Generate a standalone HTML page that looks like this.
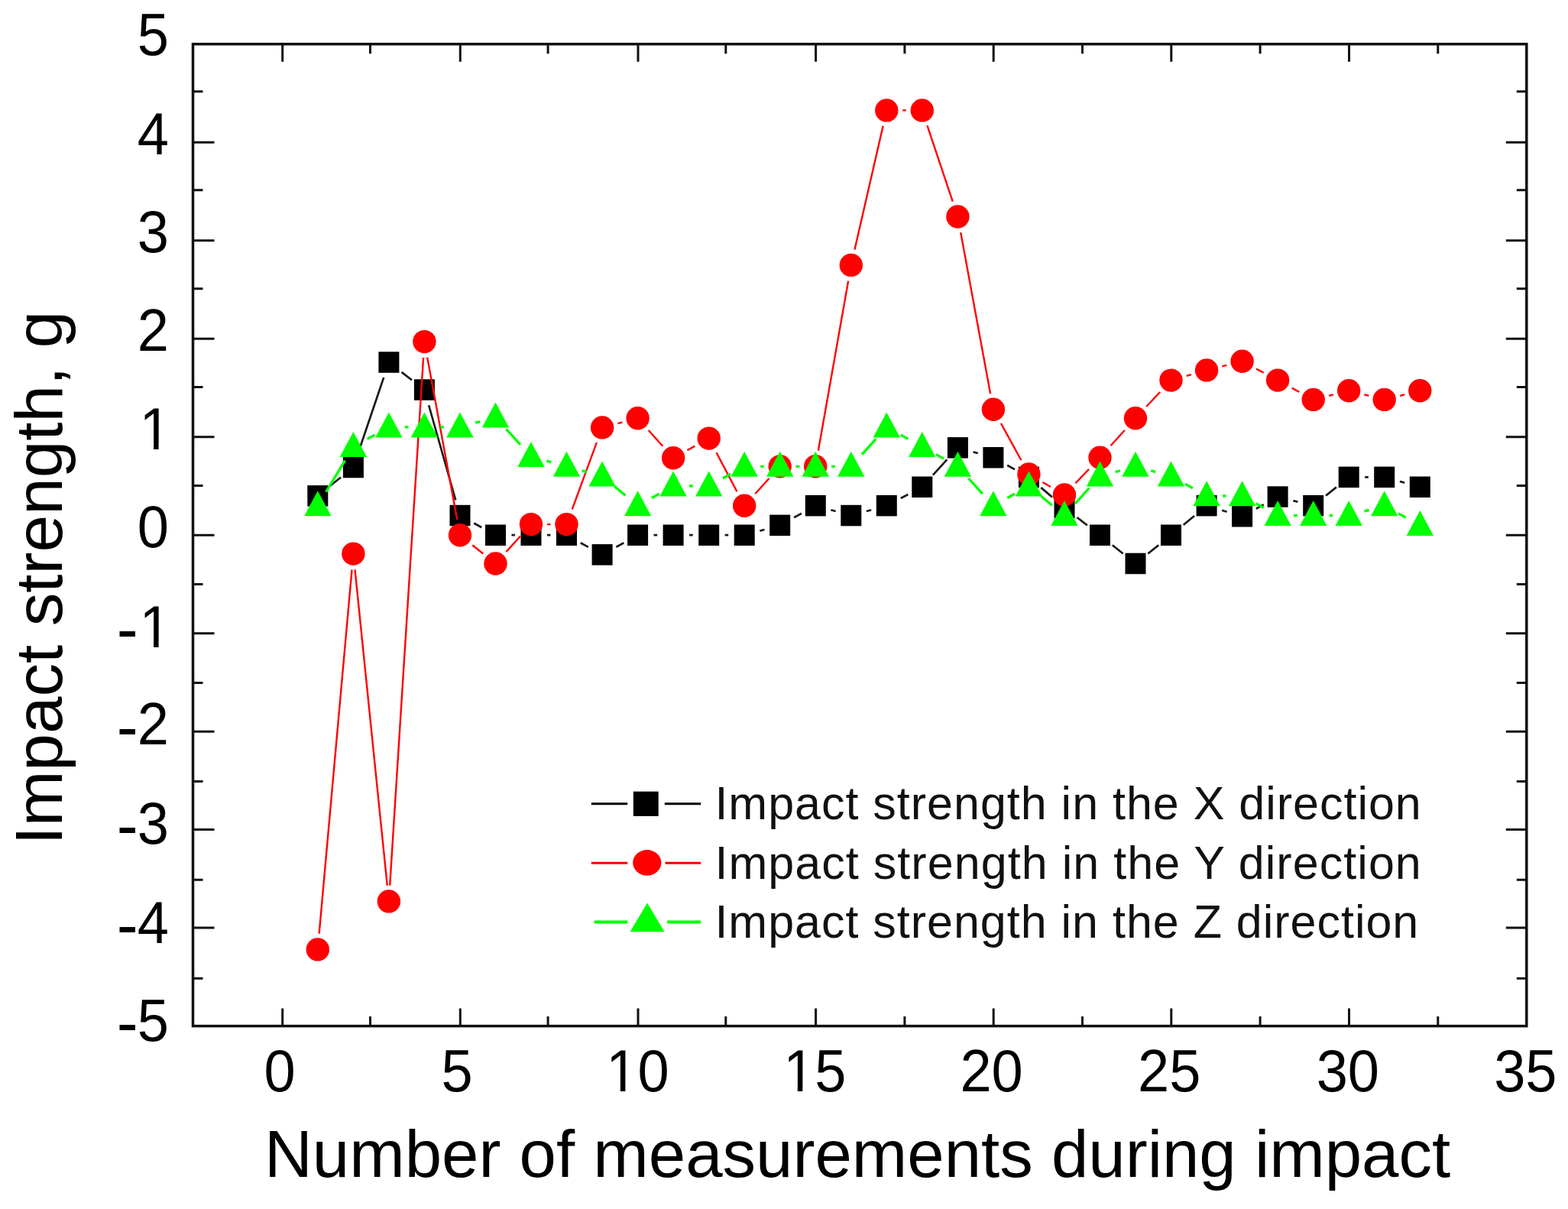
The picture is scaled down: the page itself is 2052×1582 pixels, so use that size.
<!DOCTYPE html><html><head><meta charset="utf-8"><title>Impact strength chart</title><style>html,body{margin:0;padding:0;background:#fff;overflow:hidden}svg{display:block}</style></head><body><svg width="2052" height="1582" viewBox="0 0 2052 1582">
<rect width="2052" height="1582" fill="#fff"/>
<defs><mask id="mb" maskUnits="userSpaceOnUse" x="0" y="0" width="2052" height="1582"><rect width="2052" height="1582" fill="#fff"/><circle cx="415.8" cy="648.8" r="21" fill="#000"/><circle cx="462.4" cy="611.5" r="21" fill="#000"/><circle cx="508.9" cy="474.1" r="21" fill="#000"/><circle cx="555.4" cy="510.0" r="21" fill="#000"/><circle cx="602.0" cy="674.5" r="21" fill="#000"/><circle cx="648.5" cy="700.2" r="21" fill="#000"/><circle cx="695.0" cy="700.2" r="21" fill="#000"/><circle cx="741.5" cy="700.2" r="21" fill="#000"/><circle cx="788.1" cy="725.9" r="21" fill="#000"/><circle cx="834.6" cy="700.2" r="21" fill="#000"/><circle cx="881.1" cy="700.2" r="21" fill="#000"/><circle cx="927.7" cy="700.2" r="21" fill="#000"/><circle cx="974.2" cy="700.2" r="21" fill="#000"/><circle cx="1020.7" cy="687.4" r="21" fill="#000"/><circle cx="1067.2" cy="661.7" r="21" fill="#000"/><circle cx="1113.8" cy="674.5" r="21" fill="#000"/><circle cx="1160.3" cy="661.7" r="21" fill="#000"/><circle cx="1206.8" cy="637.2" r="21" fill="#000"/><circle cx="1253.4" cy="585.9" r="21" fill="#000"/><circle cx="1299.9" cy="598.7" r="21" fill="#000"/><circle cx="1346.4" cy="624.4" r="21" fill="#000"/><circle cx="1393.0" cy="664.2" r="21" fill="#000"/><circle cx="1439.5" cy="700.2" r="21" fill="#000"/><circle cx="1486.0" cy="737.5" r="21" fill="#000"/><circle cx="1532.5" cy="700.2" r="21" fill="#000"/><circle cx="1579.1" cy="661.7" r="21" fill="#000"/><circle cx="1625.6" cy="675.8" r="21" fill="#000"/><circle cx="1672.1" cy="650.1" r="21" fill="#000"/><circle cx="1718.7" cy="661.7" r="21" fill="#000"/><circle cx="1765.2" cy="624.4" r="21" fill="#000"/><circle cx="1811.7" cy="624.4" r="21" fill="#000"/><circle cx="1858.3" cy="637.2" r="21" fill="#000"/></mask><mask id="mr" maskUnits="userSpaceOnUse" x="0" y="0" width="2052" height="1582"><rect width="2052" height="1582" fill="#fff"/><circle cx="415.8" cy="1242.4" r="21" fill="#000"/><circle cx="462.4" cy="724.6" r="21" fill="#000"/><circle cx="508.9" cy="1179.4" r="21" fill="#000"/><circle cx="555.4" cy="447.1" r="21" fill="#000"/><circle cx="602.0" cy="700.2" r="21" fill="#000"/><circle cx="648.5" cy="737.5" r="21" fill="#000"/><circle cx="695.0" cy="686.1" r="21" fill="#000"/><circle cx="741.5" cy="686.1" r="21" fill="#000"/><circle cx="788.1" cy="559.4" r="21" fill="#000"/><circle cx="834.6" cy="547.3" r="21" fill="#000"/><circle cx="881.1" cy="599.3" r="21" fill="#000"/><circle cx="927.7" cy="573.6" r="21" fill="#000"/><circle cx="974.2" cy="661.7" r="21" fill="#000"/><circle cx="1020.7" cy="610.3" r="21" fill="#000"/><circle cx="1067.2" cy="610.3" r="21" fill="#000"/><circle cx="1113.8" cy="346.9" r="21" fill="#000"/><circle cx="1160.3" cy="144.4" r="21" fill="#000"/><circle cx="1206.8" cy="144.4" r="21" fill="#000"/><circle cx="1253.4" cy="283.5" r="21" fill="#000"/><circle cx="1299.9" cy="535.7" r="21" fill="#000"/><circle cx="1346.4" cy="620.5" r="21" fill="#000"/><circle cx="1393.0" cy="647.5" r="21" fill="#000"/><circle cx="1439.5" cy="598.7" r="21" fill="#000"/><circle cx="1486.0" cy="547.3" r="21" fill="#000"/><circle cx="1532.5" cy="497.6" r="21" fill="#000"/><circle cx="1579.1" cy="484.4" r="21" fill="#000"/><circle cx="1625.6" cy="472.8" r="21" fill="#000"/><circle cx="1672.1" cy="497.6" r="21" fill="#000"/><circle cx="1718.7" cy="522.9" r="21" fill="#000"/><circle cx="1765.2" cy="511.3" r="21" fill="#000"/><circle cx="1811.7" cy="522.9" r="21" fill="#000"/><circle cx="1858.3" cy="511.3" r="21" fill="#000"/></mask><mask id="mg" maskUnits="userSpaceOnUse" x="0" y="0" width="2052" height="1582"><rect width="2052" height="1582" fill="#fff"/><circle cx="415.8" cy="661.7" r="21" fill="#000"/><circle cx="462.4" cy="584.6" r="21" fill="#000"/><circle cx="508.9" cy="558.9" r="21" fill="#000"/><circle cx="555.4" cy="558.9" r="21" fill="#000"/><circle cx="602.0" cy="558.9" r="21" fill="#000"/><circle cx="648.5" cy="546.0" r="21" fill="#000"/><circle cx="695.0" cy="597.4" r="21" fill="#000"/><circle cx="741.5" cy="610.3" r="21" fill="#000"/><circle cx="788.1" cy="623.1" r="21" fill="#000"/><circle cx="834.6" cy="661.7" r="21" fill="#000"/><circle cx="881.1" cy="636.0" r="21" fill="#000"/><circle cx="927.7" cy="636.0" r="21" fill="#000"/><circle cx="974.2" cy="610.3" r="21" fill="#000"/><circle cx="1020.7" cy="610.3" r="21" fill="#000"/><circle cx="1067.2" cy="610.3" r="21" fill="#000"/><circle cx="1113.8" cy="610.3" r="21" fill="#000"/><circle cx="1160.3" cy="558.9" r="21" fill="#000"/><circle cx="1206.8" cy="584.6" r="21" fill="#000"/><circle cx="1253.4" cy="610.3" r="21" fill="#000"/><circle cx="1299.9" cy="661.7" r="21" fill="#000"/><circle cx="1346.4" cy="636.0" r="21" fill="#000"/><circle cx="1393.0" cy="674.5" r="21" fill="#000"/><circle cx="1439.5" cy="623.1" r="21" fill="#000"/><circle cx="1486.0" cy="610.3" r="21" fill="#000"/><circle cx="1532.5" cy="623.1" r="21" fill="#000"/><circle cx="1579.1" cy="648.8" r="21" fill="#000"/><circle cx="1625.6" cy="648.8" r="21" fill="#000"/><circle cx="1672.1" cy="674.5" r="21" fill="#000"/><circle cx="1718.7" cy="674.5" r="21" fill="#000"/><circle cx="1765.2" cy="674.5" r="21" fill="#000"/><circle cx="1811.7" cy="661.7" r="21" fill="#000"/><circle cx="1858.3" cy="687.4" r="21" fill="#000"/></mask></defs>
<polyline points="415.8,648.8 462.4,611.5 508.9,474.1 555.4,510.0 602.0,674.5 648.5,700.2 695.0,700.2 741.5,700.2 788.1,725.9 834.6,700.2 881.1,700.2 927.7,700.2 974.2,700.2 1020.7,687.4 1067.2,661.7 1113.8,674.5 1160.3,661.7 1206.8,637.2 1253.4,585.9 1299.9,598.7 1346.4,624.4 1393.0,664.2 1439.5,700.2 1486.0,737.5 1532.5,700.2 1579.1,661.7 1625.6,675.8 1672.1,650.1 1718.7,661.7 1765.2,624.4 1811.7,624.4 1858.3,637.2" fill="none" stroke="#1a1a1a" stroke-width="2.7" stroke-linejoin="round" mask="url(#mb)"/>
<rect x="402.3" y="635.1" width="27" height="27.5" fill="#000"/>
<rect x="448.9" y="597.8" width="27" height="27.5" fill="#000"/>
<rect x="495.4" y="460.3" width="27" height="27.5" fill="#000"/>
<rect x="541.9" y="496.3" width="27" height="27.5" fill="#000"/>
<rect x="588.5" y="660.8" width="27" height="27.5" fill="#000"/>
<rect x="635.0" y="686.5" width="27" height="27.5" fill="#000"/>
<rect x="681.5" y="686.5" width="27" height="27.5" fill="#000"/>
<rect x="728.0" y="686.5" width="27" height="27.5" fill="#000"/>
<rect x="774.6" y="712.1" width="27" height="27.5" fill="#000"/>
<rect x="821.1" y="686.5" width="27" height="27.5" fill="#000"/>
<rect x="867.6" y="686.5" width="27" height="27.5" fill="#000"/>
<rect x="914.2" y="686.5" width="27" height="27.5" fill="#000"/>
<rect x="960.7" y="686.5" width="27" height="27.5" fill="#000"/>
<rect x="1007.2" y="673.6" width="27" height="27.5" fill="#000"/>
<rect x="1053.8" y="647.9" width="27" height="27.5" fill="#000"/>
<rect x="1100.3" y="660.8" width="27" height="27.5" fill="#000"/>
<rect x="1146.8" y="647.9" width="27" height="27.5" fill="#000"/>
<rect x="1193.3" y="623.5" width="27" height="27.5" fill="#000"/>
<rect x="1239.9" y="572.1" width="27" height="27.5" fill="#000"/>
<rect x="1286.4" y="585.0" width="27" height="27.5" fill="#000"/>
<rect x="1332.9" y="610.6" width="27" height="27.5" fill="#000"/>
<rect x="1379.5" y="650.5" width="27" height="27.5" fill="#000"/>
<rect x="1426.0" y="686.5" width="27" height="27.5" fill="#000"/>
<rect x="1472.5" y="723.7" width="27" height="27.5" fill="#000"/>
<rect x="1519.0" y="686.5" width="27" height="27.5" fill="#000"/>
<rect x="1565.6" y="647.9" width="27" height="27.5" fill="#000"/>
<rect x="1612.1" y="662.0" width="27" height="27.5" fill="#000"/>
<rect x="1658.6" y="636.3" width="27" height="27.5" fill="#000"/>
<rect x="1705.2" y="647.9" width="27" height="27.5" fill="#000"/>
<rect x="1751.7" y="610.6" width="27" height="27.5" fill="#000"/>
<rect x="1798.2" y="610.6" width="27" height="27.5" fill="#000"/>
<rect x="1844.8" y="623.5" width="27" height="27.5" fill="#000"/>
<polyline points="415.8,1242.4 462.4,724.6 508.9,1179.4 555.4,447.1 602.0,700.2 648.5,737.5 695.0,686.1 741.5,686.1 788.1,559.4 834.6,547.3 881.1,599.3 927.7,573.6 974.2,661.7 1020.7,610.3 1067.2,610.3 1113.8,346.9 1160.3,144.4 1206.8,144.4 1253.4,283.5 1299.9,535.7 1346.4,620.5 1393.0,647.5 1439.5,598.7 1486.0,547.3 1532.5,497.6 1579.1,484.4 1625.6,472.8 1672.1,497.6 1718.7,522.9 1765.2,511.3 1811.7,522.9 1858.3,511.3" fill="none" stroke="#f00" stroke-width="2.4" stroke-linejoin="round" mask="url(#mr)"/>
<circle cx="415.8" cy="1242.4" r="15.2" fill="#f00"/>
<circle cx="462.4" cy="724.6" r="15.2" fill="#f00"/>
<circle cx="508.9" cy="1179.4" r="15.2" fill="#f00"/>
<circle cx="555.4" cy="447.1" r="15.2" fill="#f00"/>
<circle cx="602.0" cy="700.2" r="15.2" fill="#f00"/>
<circle cx="648.5" cy="737.5" r="15.2" fill="#f00"/>
<circle cx="695.0" cy="686.1" r="15.2" fill="#f00"/>
<circle cx="741.5" cy="686.1" r="15.2" fill="#f00"/>
<circle cx="788.1" cy="559.4" r="15.2" fill="#f00"/>
<circle cx="834.6" cy="547.3" r="15.2" fill="#f00"/>
<circle cx="881.1" cy="599.3" r="15.2" fill="#f00"/>
<circle cx="927.7" cy="573.6" r="15.2" fill="#f00"/>
<circle cx="974.2" cy="661.7" r="15.2" fill="#f00"/>
<circle cx="1020.7" cy="610.3" r="15.2" fill="#f00"/>
<circle cx="1067.2" cy="610.3" r="15.2" fill="#f00"/>
<circle cx="1113.8" cy="346.9" r="15.2" fill="#f00"/>
<circle cx="1160.3" cy="144.4" r="15.2" fill="#f00"/>
<circle cx="1206.8" cy="144.4" r="15.2" fill="#f00"/>
<circle cx="1253.4" cy="283.5" r="15.2" fill="#f00"/>
<circle cx="1299.9" cy="535.7" r="15.2" fill="#f00"/>
<circle cx="1346.4" cy="620.5" r="15.2" fill="#f00"/>
<circle cx="1393.0" cy="647.5" r="15.2" fill="#f00"/>
<circle cx="1439.5" cy="598.7" r="15.2" fill="#f00"/>
<circle cx="1486.0" cy="547.3" r="15.2" fill="#f00"/>
<circle cx="1532.5" cy="497.6" r="15.2" fill="#f00"/>
<circle cx="1579.1" cy="484.4" r="15.2" fill="#f00"/>
<circle cx="1625.6" cy="472.8" r="15.2" fill="#f00"/>
<circle cx="1672.1" cy="497.6" r="15.2" fill="#f00"/>
<circle cx="1718.7" cy="522.9" r="15.2" fill="#f00"/>
<circle cx="1765.2" cy="511.3" r="15.2" fill="#f00"/>
<circle cx="1811.7" cy="522.9" r="15.2" fill="#f00"/>
<circle cx="1858.3" cy="511.3" r="15.2" fill="#f00"/>
<polyline points="415.8,661.7 462.4,584.6 508.9,558.9 555.4,558.9 602.0,558.9 648.5,546.0 695.0,597.4 741.5,610.3 788.1,623.1 834.6,661.7 881.1,636.0 927.7,636.0 974.2,610.3 1020.7,610.3 1067.2,610.3 1113.8,610.3 1160.3,558.9 1206.8,584.6 1253.4,610.3 1299.9,661.7 1346.4,636.0 1393.0,674.5 1439.5,623.1 1486.0,610.3 1532.5,623.1 1579.1,648.8 1625.6,648.8 1672.1,674.5 1718.7,674.5 1765.2,674.5 1811.7,661.7 1858.3,687.4" fill="none" stroke="#0f0" stroke-width="3.3" stroke-linejoin="round" mask="url(#mg)"/>
<polygon points="415.8,642.2 433.5,675.2 398.1,675.2" fill="#0f0"/>
<polygon points="462.4,565.1 480.1,598.1 444.7,598.1" fill="#0f0"/>
<polygon points="508.9,539.4 526.6,572.4 491.2,572.4" fill="#0f0"/>
<polygon points="555.4,539.4 573.1,572.4 537.7,572.4" fill="#0f0"/>
<polygon points="602.0,539.4 619.7,572.4 584.2,572.4" fill="#0f0"/>
<polygon points="648.5,526.5 666.2,559.5 630.8,559.5" fill="#0f0"/>
<polygon points="695.0,577.9 712.7,610.9 677.3,610.9" fill="#0f0"/>
<polygon points="741.5,590.8 759.2,623.8 723.8,623.8" fill="#0f0"/>
<polygon points="788.1,603.6 805.8,636.6 770.4,636.6" fill="#0f0"/>
<polygon points="834.6,642.2 852.3,675.2 816.9,675.2" fill="#0f0"/>
<polygon points="881.1,616.5 898.8,649.5 863.4,649.5" fill="#0f0"/>
<polygon points="927.7,616.5 945.4,649.5 910.0,649.5" fill="#0f0"/>
<polygon points="974.2,590.8 991.9,623.8 956.5,623.8" fill="#0f0"/>
<polygon points="1020.7,590.8 1038.4,623.8 1003.0,623.8" fill="#0f0"/>
<polygon points="1067.2,590.8 1085.0,623.8 1049.5,623.8" fill="#0f0"/>
<polygon points="1113.8,590.8 1131.5,623.8 1096.1,623.8" fill="#0f0"/>
<polygon points="1160.3,539.4 1178.0,572.4 1142.6,572.4" fill="#0f0"/>
<polygon points="1206.8,565.1 1224.5,598.1 1189.1,598.1" fill="#0f0"/>
<polygon points="1253.4,590.8 1271.1,623.8 1235.7,623.8" fill="#0f0"/>
<polygon points="1299.9,642.2 1317.6,675.2 1282.2,675.2" fill="#0f0"/>
<polygon points="1346.4,616.5 1364.1,649.5 1328.7,649.5" fill="#0f0"/>
<polygon points="1393.0,655.0 1410.7,688.0 1375.3,688.0" fill="#0f0"/>
<polygon points="1439.5,603.6 1457.2,636.6 1421.8,636.6" fill="#0f0"/>
<polygon points="1486.0,590.8 1503.7,623.8 1468.3,623.8" fill="#0f0"/>
<polygon points="1532.5,603.6 1550.2,636.6 1514.8,636.6" fill="#0f0"/>
<polygon points="1579.1,629.3 1596.8,662.3 1561.4,662.3" fill="#0f0"/>
<polygon points="1625.6,629.3 1643.3,662.3 1607.9,662.3" fill="#0f0"/>
<polygon points="1672.1,655.0 1689.8,688.0 1654.4,688.0" fill="#0f0"/>
<polygon points="1718.7,655.0 1736.4,688.0 1701.0,688.0" fill="#0f0"/>
<polygon points="1765.2,655.0 1782.9,688.0 1747.5,688.0" fill="#0f0"/>
<polygon points="1811.7,642.2 1829.4,675.2 1794.0,675.2" fill="#0f0"/>
<polygon points="1858.3,667.9 1876.0,700.9 1840.6,700.9" fill="#0f0"/>
<rect x="252.5" y="57.7" width="1745.3" height="1284.9" fill="none" stroke="#111" stroke-width="3.5"/>
<path d="M252.5,1280.3h13M1997.8,1280.3h-13M252.5,1214.1h28M1997.8,1214.1h-27M252.5,1151.3h13M1997.8,1151.3h-13M252.5,1085.6h28M1997.8,1085.6h-27M252.5,1022.4h13M1997.8,1022.4h-13M252.5,957.2h28M1997.8,957.2h-27M252.5,893.5h13M1997.8,893.5h-13M252.5,828.7h28M1997.8,828.7h-27M252.5,764.5h13M1997.8,764.5h-13M252.5,700.2h28M1997.8,700.2h-27M252.5,635.6h13M1997.8,635.6h-13M252.5,571.7h28M1997.8,571.7h-27M252.5,506.6h13M1997.8,506.6h-13M252.5,443.2h28M1997.8,443.2h-27M252.5,377.7h13M1997.8,377.7h-13M252.5,314.8h28M1997.8,314.8h-27M252.5,248.8h13M1997.8,248.8h-13M252.5,186.3h28M1997.8,186.3h-27M252.5,119.8h13M1997.8,119.8h-13M369.7,57.7v23M369.7,1342.6v-23M484.5,57.7v12.5M484.5,1342.6v-12.5M602.3,57.7v23M602.3,1342.6v-23M717.1,57.7v12.5M717.1,1342.6v-12.5M835.0,57.7v23M835.0,1342.6v-23M949.8,57.7v12.5M949.8,1342.6v-12.5M1067.6,57.7v23M1067.6,1342.6v-23M1183.9,57.7v12.5M1183.9,1342.6v-12.5M1300.2,57.7v23M1300.2,1342.6v-23M1416.5,57.7v12.5M1416.5,1342.6v-12.5M1532.8,57.7v23M1532.8,1342.6v-23M1649.1,57.7v12.5M1649.1,1342.6v-12.5M1765.5,57.7v23M1765.5,1342.6v-23M1881.8,57.7v12.5M1881.8,1342.6v-12.5" stroke="#111" stroke-width="3" fill="none"/>
<text transform="translate(0,1361.5) scale(1,1.06)" font-size="74" font-family="'Liberation Sans', Arial, sans-serif" fill="#000"><tspan x="152.8" y="5.9" font-size="84">-</tspan><tspan x="179.84" y="0">5</tspan></text>
<text transform="translate(0,1233.6) scale(1,1.06)" font-size="74" font-family="'Liberation Sans', Arial, sans-serif" fill="#000"><tspan x="152.8" y="5.9" font-size="84">-</tspan><tspan x="179.84" y="0">4</tspan></text>
<text transform="translate(0,1103.5) scale(1,1.06)" font-size="74" font-family="'Liberation Sans', Arial, sans-serif" fill="#000"><tspan x="152.8" y="5.9" font-size="84">-</tspan><tspan x="179.84" y="0">3</tspan></text>
<text transform="translate(0,974.3) scale(1,1.06)" font-size="74" font-family="'Liberation Sans', Arial, sans-serif" fill="#000"><tspan x="152.8" y="5.9" font-size="84">-</tspan><tspan x="179.84" y="0">2</tspan></text>
<text transform="translate(0,846.8) scale(1,1.06)" font-size="74" font-family="'Liberation Sans', Arial, sans-serif" fill="#000"><tspan x="152.8" y="5.9" font-size="84">-</tspan><tspan x="182.44" y="0">1</tspan></text>
<rect x="186.58" y="840.30" width="14.47" height="7.66" fill="#fff"/>
<rect x="207.59" y="840.30" width="13.89" height="7.66" fill="#fff"/>
<text transform="translate(0,716.4) scale(1,1.06)" font-size="74" font-family="'Liberation Sans', Arial, sans-serif" fill="#000"><tspan x="179.84" y="0">0</tspan></text>
<text transform="translate(0,587.5) scale(1,1.06)" font-size="74" font-family="'Liberation Sans', Arial, sans-serif" fill="#000"><tspan x="182.44" y="0">1</tspan></text>
<rect x="186.58" y="581.00" width="14.47" height="7.66" fill="#fff"/>
<rect x="207.59" y="581.00" width="13.89" height="7.66" fill="#fff"/>
<text transform="translate(0,458.8) scale(1,1.06)" font-size="74" font-family="'Liberation Sans', Arial, sans-serif" fill="#000"><tspan x="179.84" y="0">2</tspan></text>
<text transform="translate(0,329.8) scale(1,1.06)" font-size="74" font-family="'Liberation Sans', Arial, sans-serif" fill="#000"><tspan x="179.84" y="0">3</tspan></text>
<text transform="translate(0,201.6) scale(1,1.06)" font-size="74" font-family="'Liberation Sans', Arial, sans-serif" fill="#000"><tspan x="179.84" y="0">4</tspan></text>
<text transform="translate(0,72.4) scale(1,1.06)" font-size="74" font-family="'Liberation Sans', Arial, sans-serif" fill="#000"><tspan x="179.84" y="0">5</tspan></text>
<text transform="translate(366.2,1428.4) scale(1,1.06)" font-size="74" text-anchor="middle" font-family="'Liberation Sans', Arial, sans-serif" fill="#000">0</text>
<text transform="translate(598.2,1428.4) scale(1,1.06)" font-size="74" text-anchor="middle" font-family="'Liberation Sans', Arial, sans-serif" fill="#000">5</text>
<text transform="translate(834.4,1428.4) scale(1,1.06)" font-size="74" text-anchor="middle" font-family="'Liberation Sans', Arial, sans-serif" fill="#000">10</text>
<rect x="797.38" y="1421.94" width="14.47" height="7.66" fill="#fff"/>
<rect x="818.39" y="1421.94" width="13.89" height="7.66" fill="#fff"/>
<text transform="translate(1066.3,1428.4) scale(1,1.06)" font-size="74" text-anchor="middle" font-family="'Liberation Sans', Arial, sans-serif" fill="#000">15</text>
<rect x="1029.28" y="1421.94" width="14.47" height="7.66" fill="#fff"/>
<rect x="1050.29" y="1421.94" width="13.89" height="7.66" fill="#fff"/>
<text transform="translate(1297.6,1428.4) scale(1,1.06)" font-size="74" text-anchor="middle" font-family="'Liberation Sans', Arial, sans-serif" fill="#000">20</text>
<text transform="translate(1530.2,1428.4) scale(1,1.06)" font-size="74" text-anchor="middle" font-family="'Liberation Sans', Arial, sans-serif" fill="#000">25</text>
<text transform="translate(1763.8,1428.4) scale(1,1.06)" font-size="74" text-anchor="middle" font-family="'Liberation Sans', Arial, sans-serif" fill="#000">30</text>
<text transform="translate(1996.3,1428.4) scale(1,1.06)" font-size="74" text-anchor="middle" font-family="'Liberation Sans', Arial, sans-serif" fill="#000">35</text>
<text x="346" y="1539.6" font-size="87" font-family="'Liberation Sans', Arial, sans-serif" fill="#000">Number of measurements during impact</text>
<text transform="translate(80.6,1105.6) rotate(-90)" x="0" y="0" font-size="87.3" font-family="'Liberation Sans', Arial, sans-serif" fill="#000">Impact strength, g</text>
<path d="M773.8,1051.8H821.2M869.8,1051.8H917.2" stroke="#000" stroke-width="3" fill="none"/>
<path d="M773.8,1129.2H821.2M870.5,1129.2H917.2" stroke="#f00" stroke-width="3" fill="none"/>
<path d="M777.6,1206.6H821.2M873.0,1206.6H917.2" stroke="#0f0" stroke-width="4" fill="none"/>
<rect x="828.8" y="1035.7" width="32.9" height="32.2" fill="#000"/>
<ellipse cx="846.8" cy="1128.9" rx="18.6" ry="16.8" fill="#f00"/>
<polygon points="847.1,1181.6 869.6,1219.2 824.6,1219.2" fill="#0f0"/>
<text x="935.4" y="1072.2" font-size="61" textLength="924.4" lengthAdjust="spacing" font-family="'Liberation Sans', Arial, sans-serif" fill="#111">Impact strength in the X direction</text>
<text x="935.4" y="1150" font-size="61" textLength="924.4" lengthAdjust="spacing" font-family="'Liberation Sans', Arial, sans-serif" fill="#111">Impact strength in the Y direction</text>
<text x="935.4" y="1227.2" font-size="61" textLength="920.9" lengthAdjust="spacing" font-family="'Liberation Sans', Arial, sans-serif" fill="#111">Impact strength in the Z direction</text>
</svg></body></html>
